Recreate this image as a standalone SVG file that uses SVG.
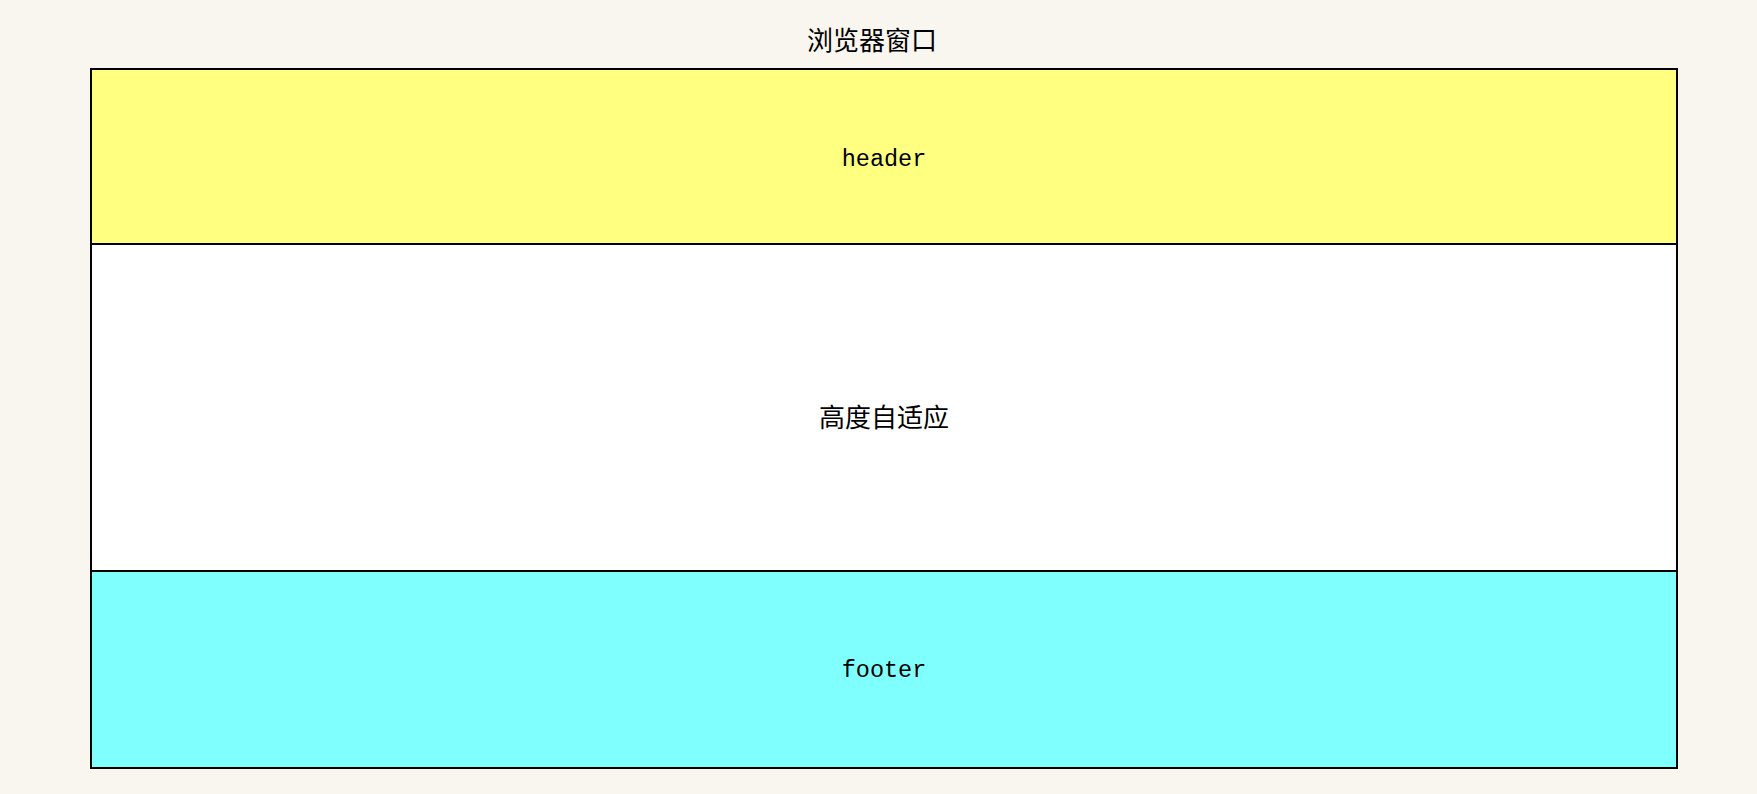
<svg xmlns="http://www.w3.org/2000/svg" width="1757" height="794" viewBox="0 0 1757 794">
<style>
.box{stroke:#000;stroke-width:2}
.cjk{font-family:"Noto Sans CJK SC","Liberation Serif",sans-serif;font-size:26px;fill:#000;text-anchor:middle}
.mono{font-family:"Liberation Mono",monospace;font-size:23.5px;fill:#000;text-anchor:middle}
</style>
<rect x="0" y="0" width="1757" height="794" fill="#f9f6f0"/>
<g id="title"><text class="cjk" x="872" y="50">浏览器窗口</text></g>
<g id="header"><rect class="box" x="91" y="69" width="1586" height="175" fill="#ffff80"/><text class="mono" x="884" y="166">header</text></g>
<g id="content"><rect class="box" x="91" y="244" width="1586" height="327" fill="#ffffff"/><text class="cjk" x="884" y="427">高度自适应</text></g>
<g id="footer"><rect class="box" x="91" y="571" width="1586" height="197" fill="#80ffff"/><text class="mono" x="884" y="677">footer</text></g>
<g id="connectors"></g>
</svg>
